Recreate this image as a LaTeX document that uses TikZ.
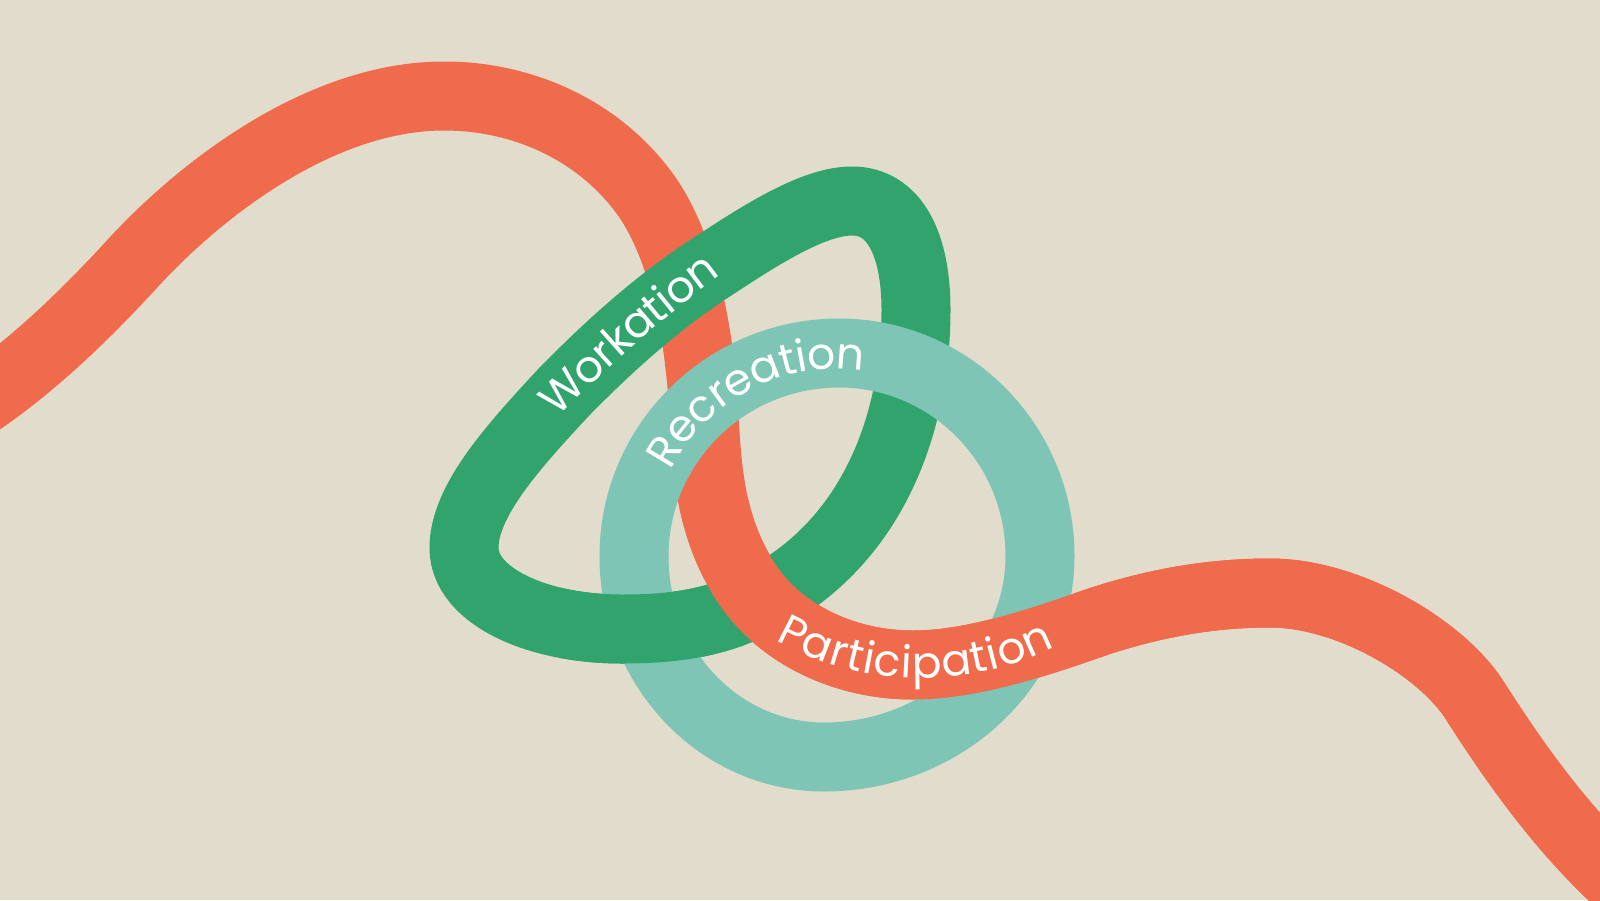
\documentclass[tikz,border=0pt]{standalone}
\usepackage{fontspec}
\newfontfamily\ribbonfont{Poppins}
\definecolor{paper}{HTML}{E2DCCD}
\definecolor{coral}{HTML}{EF6B4B}
\definecolor{leaf}{HTML}{30A46C}
\definecolor{mint}{HTML}{7EC5B5}
% centre lines of the three ribbons
\newcommand{\coralline}{(-30,408) .. controls (25,372) and (78,323) .. (133,263)
  .. controls (200,190) and (320,96) .. (444,96)
  .. controls (525,96) and (600,132) .. (645,194)
  .. controls (670,228) and (692,290) .. (700,367)
  .. controls (708,430) and (700,500) .. (738,569)
  .. controls (770,630) and (840,665) .. (913,665)
  .. controls (975,665) and (1045,640) .. (1100,621)
  .. controls (1165,600) and (1220,593) .. (1270,593)
  .. controls (1350,593) and (1445,650) .. (1477,704)
  .. controls (1510,755) and (1565,838) .. (1640,900)}
\newcommand{\leafline}{(852,201) .. controls (895,201) and (916,245) .. (916,310)
  .. controls (916,405) and (885,515) .. (794,580)
  .. controls (735,622) and (680,629) .. (622,629)
  .. controls (535,629) and (464,595) .. (464,548)
  .. controls (464,500) and (515,445) .. (563,393)
  .. controls (610,345) and (660,300) .. (715,265)
  .. controls (765,232) and (815,201) .. (852,201) -- cycle}
\newcommand{\mintline}{(839,353) .. controls (950,353) and (1040,444) .. (1040,556)
  .. controls (1040,667) and (943,757) .. (824,757)
  .. controls (719,757) and (634,667) .. (634,556)
  .. controls (634,444) and (726,353) .. (839,353) -- cycle}
\newcommand{\labelface}{\ribbonfont\fontsize{44}{44}\selectfont}
% advance widths of the label letters
\newcommand{\keepwidth}[1]{\setbox0=\hbox{\labelface #1}\expandafter\xdef\csname lw@#1\endcsname{\the\wd0}}
\AtBeginDocument{\keepwidth{W}\keepwidth{o}\keepwidth{r}\keepwidth{k}\keepwidth{a}\keepwidth{t}\keepwidth{i}\keepwidth{n}\keepwidth{R}\keepwidth{e}\keepwidth{c}\keepwidth{P}\keepwidth{p}}
\tikzset{
  ribbon/.style={line width=69pt,line join=round},
  ribbonletter/.style={text=white,inner sep=0pt,outer sep=0pt,anchor=base,font=\labelface},
}
% Sets letters one by one on a circular baseline.
% #1 node prefix, #2 cx, #3 cy, #4 radius, #5 start angle,
% #6 direction (+1 counterclockwise, -1 clockwise), #7 letter spacing, #8 letters
\newcommand{\arcletters}[8]{%
  \xdef\arcpos{#5}%
  \foreach \ch [count=\k] in {#8} {%
    \pgfmathsetmacro{\halfw}{\csname lw@\ch\endcsname/2}%
    \pgfmathsetmacro{\midang}{\arcpos+#6*\halfw/#4*180/pi}%
    \node[ribbonletter,rotate=\midang+#6*90] (#1\k) at ({#2+#4*cos(\midang)},{#3-#4*sin(\midang)}) {\ch};%
    \pgfmathsetmacro{\nxt}{\midang+#6*(\halfw+#7)/#4*180/pi}%
    \xdef\arcpos{\nxt}%
  }%
}
\begin{document}
\begin{tikzpicture}[x=1pt,y=-1pt]
\useasboundingbox (0,0) rectangle (1600,900);
\clip (0,0) rectangle (1600,900);
\fill[paper] (0,0) rectangle (1600,900);
% lowest layer: both free ribbons, then the ring over them
\draw[ribbon,coral] \coralline;
\draw[ribbon,leaf] \leafline;
\draw[ribbon,mint] \mintline;
% green passes over the ring at the lower left
\begin{scope}
  \clip (560,575) rectangle (745,700);
  \draw[ribbon,leaf] \leafline;
\end{scope}
% coral passes over green and the ring from inside the ring onward
\begin{scope}
  \clip (660,500) rectangle (1640,900);
  \draw[ribbon,coral] \coralline;
\end{scope}
% ribbon labels
\arcletters{wk}{1486}{1314}{1290}{136.0}{-1}{-0.7}{W,o,r,k,a,t,i,o,n}
\arcletters{rc}{836.5}{555}{186}{153}{-1}{-0.6}{R,e,c,r,e,a,t,i,o,n}
\arcletters{pt}{921.5}{379.4}{299}{240.7}{1}{1.1}{P,a,r,t,i,c,i,p,a,t,i,o,n}
\end{tikzpicture}
\end{document}
